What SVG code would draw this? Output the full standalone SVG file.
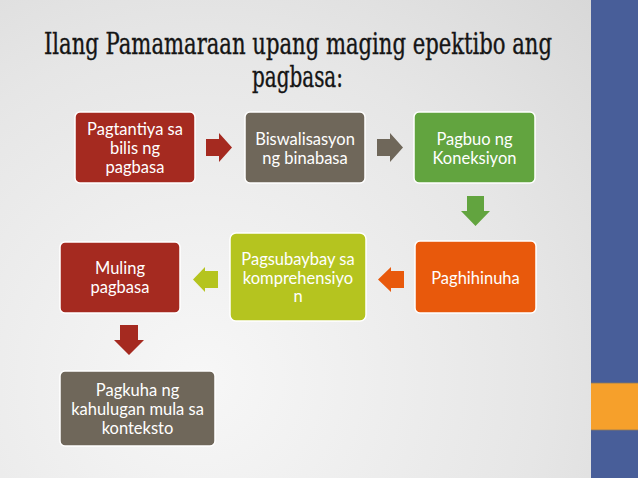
<svg xmlns="http://www.w3.org/2000/svg" width="638" height="478" viewBox="0 0 638 478">
<defs>
<radialGradient id="bg" cx="200" cy="380" r="620" gradientUnits="userSpaceOnUse">
<stop offset="0" stop-color="#f7f7f7"/>
<stop offset="0.55" stop-color="#e6e6e6"/>
<stop offset="1" stop-color="#d3d3d3"/>
</radialGradient>
<style>
.box{stroke:#ffffff;stroke-width:1.5}
.t{font-family:Lato,"Open Sans","Liberation Sans",sans-serif;font-size:16.5px;fill:#ffffff;text-anchor:middle}
.title{font-family:"DejaVu Serif","Liberation Serif",serif;font-stretch:condensed;font-size:29px;fill:#151515;stroke:#151515;stroke-width:0.35;text-anchor:middle}
.red{fill:#a52a20}
.gray{fill:#6f675a}
.green{fill:#62a43f}
.orange{fill:#e8590c}
.lime{fill:#b5c41f}
</style>
</defs>
<rect width="638" height="478" fill="url(#bg)"/>
<rect x="591" y="0" width="47" height="478" fill="#485e99"/>
<rect x="591" y="383" width="47" height="47" fill="#f6a02b"/>
<line x1="591" y1="383" x2="638" y2="383" stroke="#8a7a60" stroke-width="0.8"/>
<line x1="591" y1="430" x2="638" y2="430" stroke="#8a7a60" stroke-width="0.8"/>

<g id="title">
<text class="title" x="298" y="54" textLength="508" lengthAdjust="spacingAndGlyphs">Ilang Pamamaraan upang maging epektibo ang</text>
<text class="title" x="297.5" y="87" textLength="91" lengthAdjust="spacingAndGlyphs">pagbasa:</text>
</g>

<g id="connectors">
<path class="red" d="M206,139 H219 V133 L232,147.5 L219,162 V156 H206 Z"/>
<path class="gray" d="M377,139 H390 V133 L403,147.5 L390,162 V156 H377 Z"/>
<path class="green" d="M467,196 H484 V211 H490 L475.5,226 L461,211 H467 Z"/>
<path class="orange" d="M404,271 H391 V267 L378,279.5 L391,292 V288 H404 Z"/>
<path class="lime" d="M218,271 H205 V267 L193,279.5 L205,292 V288 H218 Z"/>
<path class="red" d="M120,325 H138 V340 H144 L129,355 L114,340 H120 Z"/>
</g>

<g id="n1">
<rect class="box red" x="75" y="112" width="120" height="71" rx="5"/>
<text class="t" x="135" y="135">Pagtantiya sa</text>
<text class="t" x="135" y="154">bilis ng</text>
<text class="t" x="135" y="173">pagbasa</text>
</g>
<g id="n2">
<rect class="box gray" x="245" y="112" width="120" height="71" rx="5"/>
<text class="t" x="305" y="144.5">Biswalisasyon</text>
<text class="t" x="305" y="163.5">ng binabasa</text>
</g>
<g id="n3">
<rect class="box green" x="414" y="112" width="121" height="71" rx="5"/>
<text class="t" x="474.5" y="144.5">Pagbuo ng</text>
<text class="t" x="474.5" y="163.5">Koneksiyon</text>
</g>
<g id="n4">
<rect class="box orange" x="415" y="241" width="121" height="72" rx="5"/>
<text class="t" x="475.5" y="283.5">Paghihinuha</text>
</g>
<g id="n5">
<rect class="box lime" x="230" y="233" width="136" height="88" rx="6"/>
<text class="t" x="298" y="265">Pagsubaybay sa</text>
<text class="t" x="298" y="283.5">komprehensiyo</text>
<text class="t" x="298" y="302">n</text>
</g>
<g id="n6">
<rect class="box red" x="60" y="242" width="120" height="71" rx="5"/>
<text class="t" x="120" y="274">Muling</text>
<text class="t" x="120" y="293">pagbasa</text>
</g>
<g id="n7">
<rect class="box gray" x="60" y="371" width="155" height="75" rx="5"/>
<text class="t" x="137.5" y="396">Pagkuha ng</text>
<text class="t" x="137.5" y="415">kahulugan mula sa</text>
<text class="t" x="137.5" y="434">konteksto</text>
</g>
</svg>
